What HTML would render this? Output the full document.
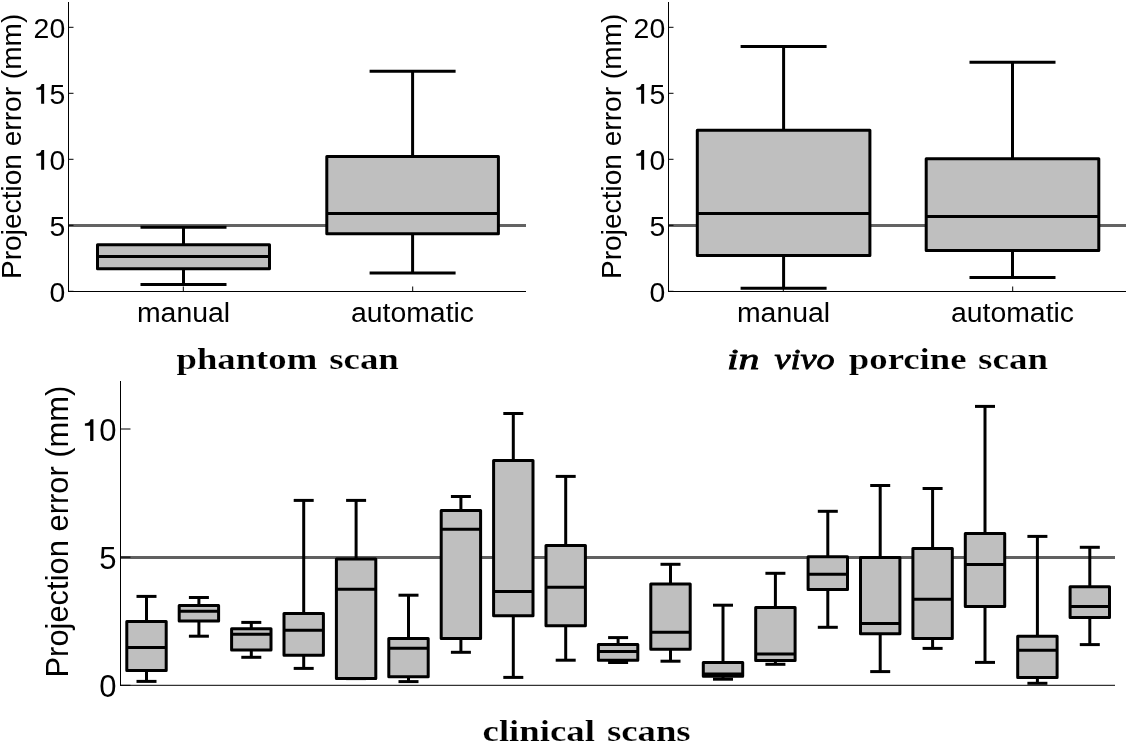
<!DOCTYPE html>
<html><head><meta charset="utf-8"><style>
html,body{margin:0;padding:0;background:#fff;}
svg{display:block;will-change:transform;}
text{font-family:"Liberation Sans",sans-serif;fill:#000;}
.tk{font-size:28.4px;}
.xl{font-size:28.4px;}
.yl{font-size:28.1px;}
.tkb{font-size:31px;}
.ylb{font-size:30.9px;}
.tt{font-family:"Liberation Serif",serif;font-weight:bold;font-size:30px;stroke:#fff;stroke-width:0.2px;}
.ti{font-family:"Liberation Serif",serif;font-style:italic;font-size:30px;stroke:#000;stroke-width:0.8px;}
</style></head><body>
<svg width="1130" height="743" viewBox="0 0 1130 743">
<line x1="68.5" y1="225.4" x2="526" y2="225.4" stroke="#636363" stroke-width="3" stroke-linecap="butt"/>
<line x1="68.5" y1="2" x2="68.5" y2="292.0" stroke="#000" stroke-width="1" stroke-linecap="butt"/>
<line x1="68.0" y1="291.5" x2="526" y2="291.5" stroke="#000" stroke-width="1" stroke-linecap="butt"/>
<line x1="68.5" y1="291.3" x2="73.5" y2="291.3" stroke="#000" stroke-width="1" stroke-linecap="butt"/>
<text x="65.2" y="301.7" class="tk" text-anchor="end">0</text>
<line x1="68.5" y1="225.3" x2="73.5" y2="225.3" stroke="#000" stroke-width="1" stroke-linecap="butt"/>
<text x="65.2" y="235.7" class="tk" text-anchor="end">5</text>
<line x1="68.5" y1="159.3" x2="73.5" y2="159.3" stroke="#000" stroke-width="1" stroke-linecap="butt"/>
<text x="65.2" y="169.7" class="tk" text-anchor="end">0</text>
<path d="M371 695L371 0L265 0L265 490L95 490L95 562Q185 566 225 598Q255 625 280 695Z" transform="translate(33.62,169.7) scale(0.02840,-0.02840)" fill="#000"/>
<line x1="68.5" y1="93.30000000000001" x2="73.5" y2="93.30000000000001" stroke="#000" stroke-width="1" stroke-linecap="butt"/>
<text x="65.2" y="103.7" class="tk" text-anchor="end">5</text>
<path d="M371 695L371 0L265 0L265 490L95 490L95 562Q185 566 225 598Q255 625 280 695Z" transform="translate(33.62,103.7) scale(0.02840,-0.02840)" fill="#000"/>
<line x1="68.5" y1="27.30000000000001" x2="73.5" y2="27.30000000000001" stroke="#000" stroke-width="1" stroke-linecap="butt"/>
<text x="65.2" y="37.7" class="tk" text-anchor="end">20</text>
<line x1="183.3" y1="291.5" x2="183.3" y2="286.5" stroke="#000" stroke-width="1" stroke-linecap="butt"/>
<line x1="412.7" y1="291.5" x2="412.7" y2="286.5" stroke="#000" stroke-width="1" stroke-linecap="butt"/>
<text class="yl" transform="translate(20.7,146.3) rotate(-90)" text-anchor="middle">Projection error (mm)</text>
<text x="183.5" y="321.9" class="xl" text-anchor="middle">manual</text>
<text x="412.5" y="321.9" class="xl" text-anchor="middle">automatic</text>
<line x1="668.5" y1="225.4" x2="1126" y2="225.4" stroke="#636363" stroke-width="3" stroke-linecap="butt"/>
<line x1="668.5" y1="2" x2="668.5" y2="292.0" stroke="#000" stroke-width="1" stroke-linecap="butt"/>
<line x1="668.0" y1="291.5" x2="1126" y2="291.5" stroke="#000" stroke-width="1" stroke-linecap="butt"/>
<line x1="668.5" y1="291.3" x2="673.5" y2="291.3" stroke="#000" stroke-width="1" stroke-linecap="butt"/>
<text x="665.2" y="301.7" class="tk" text-anchor="end">0</text>
<line x1="668.5" y1="225.3" x2="673.5" y2="225.3" stroke="#000" stroke-width="1" stroke-linecap="butt"/>
<text x="665.2" y="235.7" class="tk" text-anchor="end">5</text>
<line x1="668.5" y1="159.3" x2="673.5" y2="159.3" stroke="#000" stroke-width="1" stroke-linecap="butt"/>
<text x="665.2" y="169.7" class="tk" text-anchor="end">0</text>
<path d="M371 695L371 0L265 0L265 490L95 490L95 562Q185 566 225 598Q255 625 280 695Z" transform="translate(633.62,169.7) scale(0.02840,-0.02840)" fill="#000"/>
<line x1="668.5" y1="93.30000000000001" x2="673.5" y2="93.30000000000001" stroke="#000" stroke-width="1" stroke-linecap="butt"/>
<text x="665.2" y="103.7" class="tk" text-anchor="end">5</text>
<path d="M371 695L371 0L265 0L265 490L95 490L95 562Q185 566 225 598Q255 625 280 695Z" transform="translate(633.62,103.7) scale(0.02840,-0.02840)" fill="#000"/>
<line x1="668.5" y1="27.30000000000001" x2="673.5" y2="27.30000000000001" stroke="#000" stroke-width="1" stroke-linecap="butt"/>
<text x="665.2" y="37.7" class="tk" text-anchor="end">20</text>
<line x1="783.3" y1="291.5" x2="783.3" y2="286.5" stroke="#000" stroke-width="1" stroke-linecap="butt"/>
<line x1="1012.7" y1="291.5" x2="1012.7" y2="286.5" stroke="#000" stroke-width="1" stroke-linecap="butt"/>
<text class="yl" transform="translate(620.7,146.3) rotate(-90)" text-anchor="middle">Projection error (mm)</text>
<text x="783.5" y="321.9" class="xl" text-anchor="middle">manual</text>
<text x="1012.5" y="321.9" class="xl" text-anchor="middle">automatic</text>
<line x1="183.5" y1="227.3" x2="183.5" y2="244.7" stroke="#000" stroke-width="3" stroke-linecap="butt"/>
<line x1="183.5" y1="268.7" x2="183.5" y2="284.5" stroke="#000" stroke-width="3" stroke-linecap="butt"/>
<line x1="140.5" y1="227.3" x2="226.5" y2="227.3" stroke="#000" stroke-width="3" stroke-linecap="butt"/>
<line x1="140.5" y1="284.5" x2="226.5" y2="284.5" stroke="#000" stroke-width="3" stroke-linecap="butt"/>
<rect x="97.5" y="244.7" width="172.0" height="24.0" fill="#bfbfbf" stroke="#000" stroke-width="3" stroke-linejoin="round"/>
<line x1="97.5" y1="256.5" x2="269.5" y2="256.5" stroke="#000" stroke-width="3" stroke-linecap="butt"/>
<line x1="412.6" y1="71.2" x2="412.6" y2="156.4" stroke="#000" stroke-width="3" stroke-linecap="butt"/>
<line x1="412.6" y1="233.8" x2="412.6" y2="272.9" stroke="#000" stroke-width="3" stroke-linecap="butt"/>
<line x1="369.6" y1="71.2" x2="455.6" y2="71.2" stroke="#000" stroke-width="3" stroke-linecap="butt"/>
<line x1="369.6" y1="272.9" x2="455.6" y2="272.9" stroke="#000" stroke-width="3" stroke-linecap="butt"/>
<rect x="326.8" y="156.4" width="171.6" height="77.4" fill="#bfbfbf" stroke="#000" stroke-width="3" stroke-linejoin="round"/>
<line x1="326.8" y1="213.4" x2="498.40000000000003" y2="213.4" stroke="#000" stroke-width="3" stroke-linecap="butt"/>
<line x1="783.6" y1="46.5" x2="783.6" y2="130.3" stroke="#000" stroke-width="3" stroke-linecap="butt"/>
<line x1="783.6" y1="255.5" x2="783.6" y2="288.3" stroke="#000" stroke-width="3" stroke-linecap="butt"/>
<line x1="740.6" y1="46.5" x2="826.6" y2="46.5" stroke="#000" stroke-width="3" stroke-linecap="butt"/>
<line x1="740.6" y1="288.3" x2="826.6" y2="288.3" stroke="#000" stroke-width="3" stroke-linecap="butt"/>
<rect x="697.3000000000001" y="130.3" width="172.6" height="125.19999999999999" fill="#bfbfbf" stroke="#000" stroke-width="3" stroke-linejoin="round"/>
<line x1="697.3000000000001" y1="213.6" x2="869.9" y2="213.6" stroke="#000" stroke-width="3" stroke-linecap="butt"/>
<line x1="1012.5" y1="62.2" x2="1012.5" y2="158.7" stroke="#000" stroke-width="3" stroke-linecap="butt"/>
<line x1="1012.5" y1="250.5" x2="1012.5" y2="277.5" stroke="#000" stroke-width="3" stroke-linecap="butt"/>
<line x1="969.5" y1="62.2" x2="1055.5" y2="62.2" stroke="#000" stroke-width="3" stroke-linecap="butt"/>
<line x1="969.5" y1="277.5" x2="1055.5" y2="277.5" stroke="#000" stroke-width="3" stroke-linecap="butt"/>
<rect x="926.2" y="158.7" width="172.6" height="91.80000000000001" fill="#bfbfbf" stroke="#000" stroke-width="3" stroke-linejoin="round"/>
<line x1="926.2" y1="216.5" x2="1098.8" y2="216.5" stroke="#000" stroke-width="3" stroke-linecap="butt"/>
<text class="tt" transform="translate(176.51,369.1) scale(1.2235,1)">phantom</text>
<text class="tt" transform="translate(329.29,369.1) scale(1.2278,1)">scan</text>
<text class="ti" transform="translate(726.93,369.3) scale(1.3941,1)">in</text>
<text class="ti" transform="translate(774.42,369.3) scale(1.2053,1)">vivo</text>
<text class="tt" transform="translate(848.81,369.3) scale(1.2255,1)">porcine</text>
<text class="tt" transform="translate(978.09,369.3) scale(1.2333,1)">scan</text>
<text class="tt" transform="translate(482.57,741.4) scale(1.2264,1)">clinical</text>
<text class="tt" transform="translate(606.90,741.4) scale(1.2264,1)">scans</text>
<line x1="120.5" y1="557.5" x2="1115" y2="557.5" stroke="#606060" stroke-width="3" stroke-linecap="butt"/>
<line x1="120.5" y1="381" x2="120.5" y2="685.8" stroke="#000" stroke-width="1" stroke-linecap="butt"/>
<line x1="120.0" y1="685.3" x2="1115" y2="685.3" stroke="#000" stroke-width="1" stroke-linecap="butt"/>
<line x1="120.5" y1="685.3" x2="130.5" y2="685.3" stroke="#000" stroke-width="1" stroke-linecap="butt"/>
<text x="116.4" y="697.2" class="tkb" text-anchor="end">0</text>
<line x1="120.5" y1="557.15" x2="130.5" y2="557.15" stroke="#000" stroke-width="1" stroke-linecap="butt"/>
<text x="116.4" y="569.0" class="tkb" text-anchor="end">5</text>
<line x1="120.5" y1="428.99999999999994" x2="130.5" y2="428.99999999999994" stroke="#000" stroke-width="1" stroke-linecap="butt"/>
<text x="116.4" y="440.9" class="tkb" text-anchor="end">0</text>
<path d="M371 695L371 0L265 0L265 490L95 490L95 562Q185 566 225 598Q255 625 280 695Z" transform="translate(81.93,440.9) scale(0.03100,-0.03100)" fill="#000"/>
<text class="ylb" transform="translate(67.8,531.6) rotate(-90)" text-anchor="middle">Projection error (mm)</text>
<line x1="146.5" y1="596.4" x2="146.5" y2="621.6" stroke="#000" stroke-width="3" stroke-linecap="butt"/>
<line x1="146.5" y1="670.5" x2="146.5" y2="681.4" stroke="#000" stroke-width="3" stroke-linecap="butt"/>
<line x1="136.5" y1="596.4" x2="156.5" y2="596.4" stroke="#000" stroke-width="3" stroke-linecap="butt"/>
<line x1="136.5" y1="681.4" x2="156.5" y2="681.4" stroke="#000" stroke-width="3" stroke-linecap="butt"/>
<rect x="126.8" y="621.6" width="39.4" height="48.89999999999998" fill="#bfbfbf" stroke="#000" stroke-width="3" stroke-linejoin="round"/>
<line x1="126.8" y1="647.4" x2="166.2" y2="647.4" stroke="#000" stroke-width="3" stroke-linecap="butt"/>
<line x1="198.9" y1="597.5" x2="198.9" y2="605.6" stroke="#000" stroke-width="3" stroke-linecap="butt"/>
<line x1="198.9" y1="621.0" x2="198.9" y2="636.2" stroke="#000" stroke-width="3" stroke-linecap="butt"/>
<line x1="188.9" y1="597.5" x2="208.9" y2="597.5" stroke="#000" stroke-width="3" stroke-linecap="butt"/>
<line x1="188.9" y1="636.2" x2="208.9" y2="636.2" stroke="#000" stroke-width="3" stroke-linecap="butt"/>
<rect x="179.20000000000002" y="605.6" width="39.4" height="15.399999999999977" fill="#bfbfbf" stroke="#000" stroke-width="3" stroke-linejoin="round"/>
<line x1="179.20000000000002" y1="611.2" x2="218.6" y2="611.2" stroke="#000" stroke-width="3" stroke-linecap="butt"/>
<line x1="251.3" y1="622.4" x2="251.3" y2="628.8" stroke="#000" stroke-width="3" stroke-linecap="butt"/>
<line x1="251.3" y1="649.9" x2="251.3" y2="657.3" stroke="#000" stroke-width="3" stroke-linecap="butt"/>
<line x1="241.3" y1="622.4" x2="261.3" y2="622.4" stroke="#000" stroke-width="3" stroke-linecap="butt"/>
<line x1="241.3" y1="657.3" x2="261.3" y2="657.3" stroke="#000" stroke-width="3" stroke-linecap="butt"/>
<rect x="231.60000000000002" y="628.8" width="39.4" height="21.100000000000023" fill="#bfbfbf" stroke="#000" stroke-width="3" stroke-linejoin="round"/>
<line x1="231.60000000000002" y1="634.3" x2="271.0" y2="634.3" stroke="#000" stroke-width="3" stroke-linecap="butt"/>
<line x1="303.7" y1="500.4" x2="303.7" y2="613.6" stroke="#000" stroke-width="3" stroke-linecap="butt"/>
<line x1="303.7" y1="655.2" x2="303.7" y2="668.4" stroke="#000" stroke-width="3" stroke-linecap="butt"/>
<line x1="293.7" y1="500.4" x2="313.7" y2="500.4" stroke="#000" stroke-width="3" stroke-linecap="butt"/>
<line x1="293.7" y1="668.4" x2="313.7" y2="668.4" stroke="#000" stroke-width="3" stroke-linecap="butt"/>
<rect x="284.0" y="613.6" width="39.4" height="41.60000000000002" fill="#bfbfbf" stroke="#000" stroke-width="3" stroke-linejoin="round"/>
<line x1="284.0" y1="630.3" x2="323.4" y2="630.3" stroke="#000" stroke-width="3" stroke-linecap="butt"/>
<line x1="356.1" y1="500.4" x2="356.1" y2="558.9" stroke="#000" stroke-width="3" stroke-linecap="butt"/>
<line x1="356.1" y1="678.6" x2="356.1" y2="678.6" stroke="#000" stroke-width="3" stroke-linecap="butt"/>
<line x1="346.1" y1="500.4" x2="366.1" y2="500.4" stroke="#000" stroke-width="3" stroke-linecap="butt"/>
<line x1="346.1" y1="678.6" x2="366.1" y2="678.6" stroke="#000" stroke-width="3" stroke-linecap="butt"/>
<rect x="336.40000000000003" y="558.9" width="39.4" height="119.70000000000005" fill="#bfbfbf" stroke="#000" stroke-width="3" stroke-linejoin="round"/>
<line x1="336.40000000000003" y1="589.2" x2="375.8" y2="589.2" stroke="#000" stroke-width="3" stroke-linecap="butt"/>
<line x1="408.5" y1="595.2" x2="408.5" y2="638.6" stroke="#000" stroke-width="3" stroke-linecap="butt"/>
<line x1="408.5" y1="676.7" x2="408.5" y2="681.6" stroke="#000" stroke-width="3" stroke-linecap="butt"/>
<line x1="398.5" y1="595.2" x2="418.5" y2="595.2" stroke="#000" stroke-width="3" stroke-linecap="butt"/>
<line x1="398.5" y1="681.6" x2="418.5" y2="681.6" stroke="#000" stroke-width="3" stroke-linecap="butt"/>
<rect x="388.8" y="638.6" width="39.4" height="38.10000000000002" fill="#bfbfbf" stroke="#000" stroke-width="3" stroke-linejoin="round"/>
<line x1="388.8" y1="648.2" x2="428.2" y2="648.2" stroke="#000" stroke-width="3" stroke-linecap="butt"/>
<line x1="460.9" y1="496.5" x2="460.9" y2="510.4" stroke="#000" stroke-width="3" stroke-linecap="butt"/>
<line x1="460.9" y1="638.4" x2="460.9" y2="652.3" stroke="#000" stroke-width="3" stroke-linecap="butt"/>
<line x1="450.9" y1="496.5" x2="470.9" y2="496.5" stroke="#000" stroke-width="3" stroke-linecap="butt"/>
<line x1="450.9" y1="652.3" x2="470.9" y2="652.3" stroke="#000" stroke-width="3" stroke-linecap="butt"/>
<rect x="441.2" y="510.4" width="39.4" height="128.0" fill="#bfbfbf" stroke="#000" stroke-width="3" stroke-linejoin="round"/>
<line x1="441.2" y1="529.3" x2="480.59999999999997" y2="529.3" stroke="#000" stroke-width="3" stroke-linecap="butt"/>
<line x1="513.3" y1="413.5" x2="513.3" y2="460.6" stroke="#000" stroke-width="3" stroke-linecap="butt"/>
<line x1="513.3" y1="615.8" x2="513.3" y2="677.4" stroke="#000" stroke-width="3" stroke-linecap="butt"/>
<line x1="503.29999999999995" y1="413.5" x2="523.3" y2="413.5" stroke="#000" stroke-width="3" stroke-linecap="butt"/>
<line x1="503.29999999999995" y1="677.4" x2="523.3" y2="677.4" stroke="#000" stroke-width="3" stroke-linecap="butt"/>
<rect x="493.59999999999997" y="460.6" width="39.4" height="155.19999999999993" fill="#bfbfbf" stroke="#000" stroke-width="3" stroke-linejoin="round"/>
<line x1="493.59999999999997" y1="591.5" x2="533.0" y2="591.5" stroke="#000" stroke-width="3" stroke-linecap="butt"/>
<line x1="565.7" y1="476.4" x2="565.7" y2="545.4" stroke="#000" stroke-width="3" stroke-linecap="butt"/>
<line x1="565.7" y1="625.8" x2="565.7" y2="660.2" stroke="#000" stroke-width="3" stroke-linecap="butt"/>
<line x1="555.7" y1="476.4" x2="575.7" y2="476.4" stroke="#000" stroke-width="3" stroke-linecap="butt"/>
<line x1="555.7" y1="660.2" x2="575.7" y2="660.2" stroke="#000" stroke-width="3" stroke-linecap="butt"/>
<rect x="546.0" y="545.4" width="39.4" height="80.39999999999998" fill="#bfbfbf" stroke="#000" stroke-width="3" stroke-linejoin="round"/>
<line x1="546.0" y1="587.3" x2="585.4000000000001" y2="587.3" stroke="#000" stroke-width="3" stroke-linecap="butt"/>
<line x1="618.1" y1="637.6" x2="618.1" y2="644.6" stroke="#000" stroke-width="3" stroke-linecap="butt"/>
<line x1="618.1" y1="660.2" x2="618.1" y2="662.5" stroke="#000" stroke-width="3" stroke-linecap="butt"/>
<line x1="608.1" y1="637.6" x2="628.1" y2="637.6" stroke="#000" stroke-width="3" stroke-linecap="butt"/>
<line x1="608.1" y1="662.5" x2="628.1" y2="662.5" stroke="#000" stroke-width="3" stroke-linecap="butt"/>
<rect x="598.4" y="644.6" width="39.4" height="15.600000000000023" fill="#bfbfbf" stroke="#000" stroke-width="3" stroke-linejoin="round"/>
<line x1="598.4" y1="651.4" x2="637.8000000000001" y2="651.4" stroke="#000" stroke-width="3" stroke-linecap="butt"/>
<line x1="670.5" y1="564.3" x2="670.5" y2="584.1" stroke="#000" stroke-width="3" stroke-linecap="butt"/>
<line x1="670.5" y1="649.2" x2="670.5" y2="661.2" stroke="#000" stroke-width="3" stroke-linecap="butt"/>
<line x1="660.5" y1="564.3" x2="680.5" y2="564.3" stroke="#000" stroke-width="3" stroke-linecap="butt"/>
<line x1="660.5" y1="661.2" x2="680.5" y2="661.2" stroke="#000" stroke-width="3" stroke-linecap="butt"/>
<rect x="650.8" y="584.1" width="39.4" height="65.10000000000002" fill="#bfbfbf" stroke="#000" stroke-width="3" stroke-linejoin="round"/>
<line x1="650.8" y1="632.3" x2="690.2" y2="632.3" stroke="#000" stroke-width="3" stroke-linecap="butt"/>
<line x1="723.0" y1="605.2" x2="723.0" y2="662.5" stroke="#000" stroke-width="3" stroke-linecap="butt"/>
<line x1="723.0" y1="676.2" x2="723.0" y2="679.2" stroke="#000" stroke-width="3" stroke-linecap="butt"/>
<line x1="713.0" y1="605.2" x2="733.0" y2="605.2" stroke="#000" stroke-width="3" stroke-linecap="butt"/>
<line x1="713.0" y1="679.2" x2="733.0" y2="679.2" stroke="#000" stroke-width="3" stroke-linecap="butt"/>
<rect x="703.3" y="662.5" width="39.4" height="13.700000000000045" fill="#bfbfbf" stroke="#000" stroke-width="3" stroke-linejoin="round"/>
<line x1="703.3" y1="674.0" x2="742.7" y2="674.0" stroke="#000" stroke-width="3" stroke-linecap="butt"/>
<line x1="775.4" y1="573.3" x2="775.4" y2="607.5" stroke="#000" stroke-width="3" stroke-linecap="butt"/>
<line x1="775.4" y1="660.5" x2="775.4" y2="664.3" stroke="#000" stroke-width="3" stroke-linecap="butt"/>
<line x1="765.4" y1="573.3" x2="785.4" y2="573.3" stroke="#000" stroke-width="3" stroke-linecap="butt"/>
<line x1="765.4" y1="664.3" x2="785.4" y2="664.3" stroke="#000" stroke-width="3" stroke-linecap="butt"/>
<rect x="755.6999999999999" y="607.5" width="39.4" height="53.0" fill="#bfbfbf" stroke="#000" stroke-width="3" stroke-linejoin="round"/>
<line x1="755.6999999999999" y1="654.1" x2="795.1" y2="654.1" stroke="#000" stroke-width="3" stroke-linecap="butt"/>
<line x1="827.8" y1="511.3" x2="827.8" y2="556.8" stroke="#000" stroke-width="3" stroke-linecap="butt"/>
<line x1="827.8" y1="589.5" x2="827.8" y2="627.3" stroke="#000" stroke-width="3" stroke-linecap="butt"/>
<line x1="817.8" y1="511.3" x2="837.8" y2="511.3" stroke="#000" stroke-width="3" stroke-linecap="butt"/>
<line x1="817.8" y1="627.3" x2="837.8" y2="627.3" stroke="#000" stroke-width="3" stroke-linecap="butt"/>
<rect x="808.0999999999999" y="556.8" width="39.4" height="32.700000000000045" fill="#bfbfbf" stroke="#000" stroke-width="3" stroke-linejoin="round"/>
<line x1="808.0999999999999" y1="574.2" x2="847.5" y2="574.2" stroke="#000" stroke-width="3" stroke-linecap="butt"/>
<line x1="880.2" y1="485.5" x2="880.2" y2="557.5" stroke="#000" stroke-width="3" stroke-linecap="butt"/>
<line x1="880.2" y1="633.7" x2="880.2" y2="671.6" stroke="#000" stroke-width="3" stroke-linecap="butt"/>
<line x1="870.2" y1="485.5" x2="890.2" y2="485.5" stroke="#000" stroke-width="3" stroke-linecap="butt"/>
<line x1="870.2" y1="671.6" x2="890.2" y2="671.6" stroke="#000" stroke-width="3" stroke-linecap="butt"/>
<rect x="860.5" y="557.5" width="39.4" height="76.20000000000005" fill="#bfbfbf" stroke="#000" stroke-width="3" stroke-linejoin="round"/>
<line x1="860.5" y1="623.4" x2="899.9000000000001" y2="623.4" stroke="#000" stroke-width="3" stroke-linecap="butt"/>
<line x1="932.6" y1="488.5" x2="932.6" y2="548.5" stroke="#000" stroke-width="3" stroke-linecap="butt"/>
<line x1="932.6" y1="638.6" x2="932.6" y2="648.4" stroke="#000" stroke-width="3" stroke-linecap="butt"/>
<line x1="922.6" y1="488.5" x2="942.6" y2="488.5" stroke="#000" stroke-width="3" stroke-linecap="butt"/>
<line x1="922.6" y1="648.4" x2="942.6" y2="648.4" stroke="#000" stroke-width="3" stroke-linecap="butt"/>
<rect x="912.9" y="548.5" width="39.4" height="90.10000000000002" fill="#bfbfbf" stroke="#000" stroke-width="3" stroke-linejoin="round"/>
<line x1="912.9" y1="599.2" x2="952.3000000000001" y2="599.2" stroke="#000" stroke-width="3" stroke-linecap="butt"/>
<line x1="985.0" y1="406.4" x2="985.0" y2="533.6" stroke="#000" stroke-width="3" stroke-linecap="butt"/>
<line x1="985.0" y1="606.6" x2="985.0" y2="662.4" stroke="#000" stroke-width="3" stroke-linecap="butt"/>
<line x1="975.0" y1="406.4" x2="995.0" y2="406.4" stroke="#000" stroke-width="3" stroke-linecap="butt"/>
<line x1="975.0" y1="662.4" x2="995.0" y2="662.4" stroke="#000" stroke-width="3" stroke-linecap="butt"/>
<rect x="965.3" y="533.6" width="39.4" height="73.0" fill="#bfbfbf" stroke="#000" stroke-width="3" stroke-linejoin="round"/>
<line x1="965.3" y1="564.5" x2="1004.7" y2="564.5" stroke="#000" stroke-width="3" stroke-linecap="butt"/>
<line x1="1037.4" y1="536.4" x2="1037.4" y2="636.3" stroke="#000" stroke-width="3" stroke-linecap="butt"/>
<line x1="1037.4" y1="677.4" x2="1037.4" y2="683.3" stroke="#000" stroke-width="3" stroke-linecap="butt"/>
<line x1="1027.4" y1="536.4" x2="1047.4" y2="536.4" stroke="#000" stroke-width="3" stroke-linecap="butt"/>
<line x1="1027.4" y1="683.3" x2="1047.4" y2="683.3" stroke="#000" stroke-width="3" stroke-linecap="butt"/>
<rect x="1017.7" y="636.3" width="39.4" height="41.10000000000002" fill="#bfbfbf" stroke="#000" stroke-width="3" stroke-linejoin="round"/>
<line x1="1017.7" y1="650.3" x2="1057.1000000000001" y2="650.3" stroke="#000" stroke-width="3" stroke-linecap="butt"/>
<line x1="1089.8" y1="547.3" x2="1089.8" y2="586.8" stroke="#000" stroke-width="3" stroke-linecap="butt"/>
<line x1="1089.8" y1="617.5" x2="1089.8" y2="644.6" stroke="#000" stroke-width="3" stroke-linecap="butt"/>
<line x1="1079.8" y1="547.3" x2="1099.8" y2="547.3" stroke="#000" stroke-width="3" stroke-linecap="butt"/>
<line x1="1079.8" y1="644.6" x2="1099.8" y2="644.6" stroke="#000" stroke-width="3" stroke-linecap="butt"/>
<rect x="1070.1" y="586.8" width="39.4" height="30.700000000000045" fill="#bfbfbf" stroke="#000" stroke-width="3" stroke-linejoin="round"/>
<line x1="1070.1" y1="606.5" x2="1109.5" y2="606.5" stroke="#000" stroke-width="3" stroke-linecap="butt"/>
</svg>
</body></html>
